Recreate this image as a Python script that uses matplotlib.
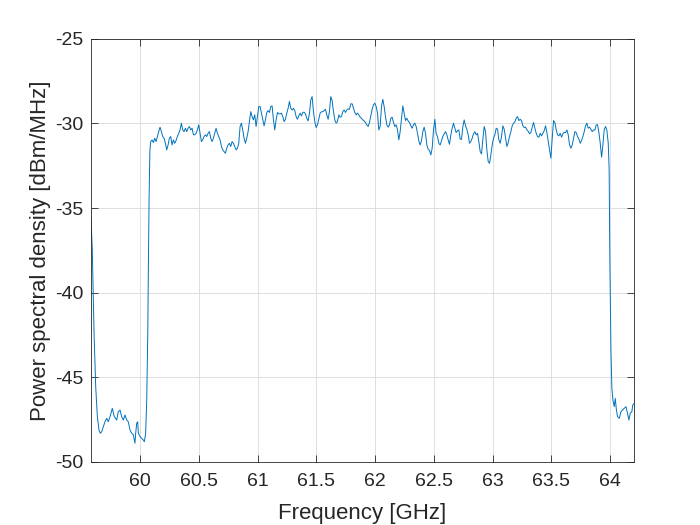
import numpy as np
from matplotlib import pyplot as plt

plt.rcParams['font.family'] = ['Liberation Sans', 'DejaVu Sans']

# left edge (below the band) - read point by point
freq_low = [59.583, 59.594, 59.609, 59.623, 59.637, 59.651, 59.662, 59.674, 59.702, 59.717,
            59.730, 59.745, 59.764, 59.781, 59.802, 59.815, 59.830, 59.844, 59.858, 59.872,
            59.887, 59.900, 59.915, 59.929, 59.943, 59.957, 59.963, 59.972, 59.980, 59.986,
            60.000, 60.014, 60.028, 60.037, 60.048, 60.057, 60.066, 60.071, 60.077, 60.084]
psd_low = [-35.58, -37.47, -42.40, -45.55, -47.32, -48.11, -48.30, -48.21, -47.62, -47.42,
           -47.62, -47.32, -46.83, -47.32, -47.52, -47.03, -46.93, -47.32, -47.52, -47.22,
           -47.52, -47.62, -48.11, -48.30, -48.40, -48.89, -48.30, -47.71, -47.62, -48.30,
           -48.50, -48.60, -48.70, -48.80, -48.30, -46.34, -42.40, -38.46, -34.52, -31.60]

# in-band spectrum, one value per analyser bin
f_start = 60.091
f_step = 0.0113475
psd_band = [
    -31.07, -30.97, -31.13, -30.87, -31.07, -30.77, -30.48, -30.22, -30.48, -30.77,
    -30.87, -31.17, -31.56, -31.27, -30.87, -30.77, -31.27, -30.97, -31.17, -31.01,
    -30.77, -30.58, -30.38, -29.98, -30.38, -30.48, -30.28, -30.48, -30.28, -30.18,
    -30.38, -30.28, -30.67, -30.67, -30.58, -30.38, -30.08, -30.58, -31.07, -30.97,
    -30.77, -30.67, -30.77, -30.58, -30.48, -30.87, -31.07, -30.87, -30.58, -30.28,
    -30.58, -30.77, -30.97, -31.36, -31.56, -31.66, -31.76, -31.46, -31.27, -31.17,
    -31.36, -31.07, -31.17, -31.36, -31.56, -31.46, -31.17, -30.18, -29.98, -30.38,
    -30.87, -31.17, -30.87, -30.48, -29.89, -29.30, -29.59, -29.79, -29.49, -30.18,
    -29.59, -29.00,
    -29.00, -29.39, -29.79, -30.14, -29.79, -29.35, -29.24, -29.35, -29.00, -28.96,
    -29.79, -30.38, -29.79, -29.35, -29.43, -29.43, -29.39, -29.59, -29.89, -29.75,
    -29.39, -29.10, -28.70, -29.10, -29.20, -29.10, -29.24, -29.59, -29.75, -29.55,
    -29.39, -29.55, -29.35, -29.33, -29.43, -29.69, -29.85, -29.39, -28.61, -28.41,
    -29.30, -29.89, -30.24, -30.08, -29.75, -29.39, -29.31, -29.30, -29.24, -29.16,
    -29.49, -29.75, -29.30, -28.41, -28.64, -29.30, -29.79, -29.98, -29.89, -29.49,
    -29.63, -29.59, -29.30, -29.20, -29.35, -29.20, -29.14, -29.16, -28.84, -28.84,
    -29.10, -29.35, -29.49, -29.39, -29.49, -29.63, -29.69, -29.79, -29.85, -29.94,
    -30.08, -30.18, -29.94, -29.55, -29.16, -28.90, -28.80, -29.00, -29.39, -30.38,
    -30.18, -29.00, -28.57, -29.00, -29.59, -30.08, -30.22, -30.08, -29.69, -29.63,
    -29.94, -30.18, -30.08, -30.38, -30.97, -30.48, -29.75, -28.96, -29.39, -29.83,
    -29.69, -29.85, -29.94, -30.14, -30.28, -30.08, -29.98, -30.18, -30.58, -31.03,
    -31.27, -31.01, -30.48, -30.22, -30.58, -31.27, -31.52, -31.60, -31.86, -31.46,
    -30.38, -29.75, -30.61, -30.77, -31.17, -31.27, -31.01, -30.77, -30.61, -30.48,
    -30.67, -30.97, -31.23, -30.67, -30.28, -29.98, -30.28, -30.54, -30.42, -30.38,
    -30.93, -30.93, -30.18, -29.79, -30.14, -30.34, -30.67, -31.17, -31.07, -30.87,
    -30.61, -30.48, -30.67, -30.58, -31.07, -31.66, -31.80, -30.93, -30.18, -30.48,
    -31.56, -32.25, -32.35, -31.86, -31.27, -30.87, -30.67, -30.28, -30.34, -30.97,
    -31.17, -30.77, -30.14, -30.34, -30.87, -31.36, -31.13, -30.77, -30.48, -30.14,
    -29.98, -29.91, -29.69, -29.59, -29.83, -29.75, -29.83, -30.14, -30.24, -30.22,
    -30.38, -30.46, -30.61, -30.54, -30.22, -29.94, -30.28, -30.58, -30.77, -30.81,
    -30.58, -30.73, -30.58, -30.42, -30.14, -30.54, -31.07, -31.56, -32.05, -30.87,
    -29.83, -29.94, -30.38, -30.67, -30.73, -30.58, -30.81, -30.61, -30.52, -30.54,
    -30.38, -30.67, -31.27, -31.46, -31.27, -30.87, -30.48, -30.54, -30.77, -30.93,
    -31.17, -31.01, -30.77, -30.48, -30.14, -29.98, -30.28, -30.22, -30.34, -30.48,
    -30.38, -30.38, -30.08, -30.08, -30.54, -31.17, -31.99, -31.27, -30.34, -30.18,
    -30.42, -31.17,
]

# right edge (above the band)
freq_high = [63.991, 63.996, 64.006, 64.014, 64.023, 64.034, 64.043, 64.051, 64.062, 64.077,
             64.091, 64.104, 64.119, 64.134, 64.147, 64.159, 64.170, 64.184, 64.192, 64.204]
psd_high = [-32.74, -37.47, -43.38, -45.64, -46.34, -46.73, -46.24, -46.83, -47.32, -47.42,
            -47.03, -46.93, -46.83, -46.73, -47.12, -47.52, -47.12, -47.03, -46.63, -46.53]

freq_band = f_start + f_step * np.arange(len(psd_band))
freq = np.concatenate([freq_low, freq_band, freq_high])
psd = np.concatenate([psd_low, psd_band, psd_high])

fig = plt.figure(figsize=(7, 5.25), dpi=100)
ax = fig.add_axes([0.13, 0.12, 0.776, 0.806])
ax.plot(freq, psd, color='#0072BD', linewidth=0.7)

ax.set_xlim(59.583, 64.204)
ax.set_ylim(-50, -25)
ax.set_xticks(np.arange(60, 64.01, 0.5))
ax.set_xticklabels(['60', '60.5', '61', '61.5', '62', '62.5', '63', '63.5', '64'])
ax.set_yticks(np.arange(-50, -24, 5))
ax.set_yticklabels(['-50', '-45', '-40', '-35', '-30', '-25'])

ax.grid(True, color='#dfdfdf', linewidth=0.7)
ax.set_axisbelow(True)
ax.tick_params(direction='in', length=5, width=0.6, top=True, right=True,
               labelsize=14, colors='#262626')
ax.tick_params(axis='x', pad=8)
ax.tick_params(axis='y', pad=5.5)
for s in ax.spines.values():
    s.set_color('#262626')
    s.set_linewidth(0.6)

ax.set_xlabel('Frequency [GHz]', fontsize=16, color='#262626', labelpad=9)
ax.set_ylabel('Power spectral density [dBm/MHz]', fontsize=16, color='#262626', labelpad=3)

plt.savefig('out.png', dpi=100)
